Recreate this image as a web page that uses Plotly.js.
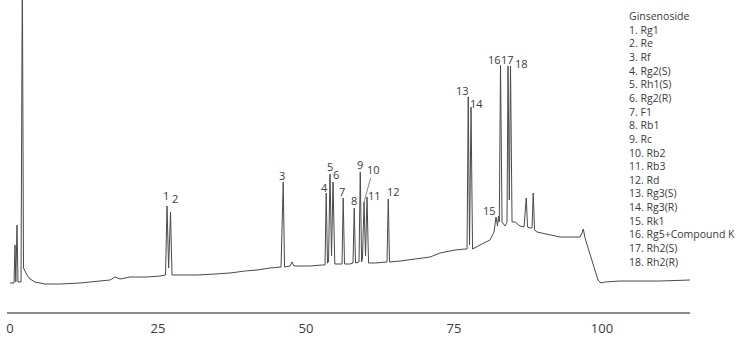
<!DOCTYPE html>
<html>
<head>
<meta charset="utf-8">
<script src="https://cdn.plot.ly/plotly-3.0.1.min.js"></script>
<style>
  html, body { margin: 0; padding: 0; background: #ffffff; }
  #chart { width: 740px; height: 338px; }
</style>
</head>
<body>
<div id="chart"></div>
<script>
// Chromatogram trace: retention time (min) and detector signal (arbitrary units)
const time = [0, 0.68, 0.84, 0.98, 1.18, 1.35, 1.86, 2.08, 2.28, 2.53, 2.87, 3.38, 4.22, 5.91, 8.45, 11.82, 15.20, 16.89, 17.74, 18.58, 20.27, 23.14, 25.34, 26.27, 26.52, 26.79, 27.11, 27.36, 28.72, 31.59, 34.63, 37.16, 39.70, 41.72, 43.92, 45.78, 46.15, 46.37, 47.30, 47.64, 47.97, 50.68, 52.70, 53.21, 53.41, 53.63, 53.80, 54.05, 54.31, 54.56, 54.86, 55.41, 56.08, 56.28, 56.50, 57.43, 57.94, 58.14, 58.36, 58.95, 59.16, 59.39, 59.54, 59.80, 60.05, 60.30, 60.56, 61.66, 63.34, 63.68, 63.89, 64.10, 65.88, 69.26, 70.95, 72.64, 75.17, 76.86, 77.20, 77.40, 77.62, 77.87, 78.13, 79.39, 81.08, 81.76, 82.09, 82.35, 82.52, 82.65, 82.85, 83.11, 83.61, 83.95, 84.12, 84.34, 84.54, 84.80, 85.30, 86.15, 86.82, 87.20, 87.42, 87.84, 88.18, 88.38, 88.60, 89.02, 90.37, 92.91, 95.44, 96.28, 96.62, 96.84, 97.13, 97.97, 98.82, 99.32, 99.83, 100.51, 103.04, 109.80, 114.86];
const signal = [29, 29, 67, 30, 87, 30, 30, 342, 44, 41, 37, 33, 30, 28, 28, 29, 31, 32, 35, 33, 35, 35, 36, 37, 106, 44, 100, 37, 37, 37, 38, 39, 41, 42, 44, 45, 130, 45, 46, 50, 46, 46, 47, 47, 119, 49, 50, 138, 56, 130, 48, 48, 48, 114, 48, 48, 49, 104, 49, 50, 140, 50, 54, 110, 56, 115, 49, 49, 50, 50, 113, 50, 51, 54, 55, 59, 62, 63, 63, 215, 67, 205, 63, 67, 72, 80, 95, 86, 96, 90, 247, 90, 86, 90, 246, 112, 246, 90, 90, 86, 85, 114, 85, 84, 84, 119, 82, 80, 78, 75, 75, 75, 79, 83, 74, 57, 40, 32, 29, 30, 31, 31, 32];

// Numbered peaks: apex time and apex signal
const peakNumbers = ["1","2","3","4","5","6","7","8","9","10","11","12","13","14","15","16","17","18"];
const peakTimes   = [26.52, 27.11, 46.15, 53.41, 54.05, 54.56, 56.28, 58.14, 59.16, 59.80, 60.30, 63.89, 77.40, 77.87, 82.09, 82.85, 84.12, 84.54];
const peakHeights = [106, 100, 130, 119, 138, 130, 114, 104, 140, 110, 115, 113, 215, 205, 95, 247, 246, 246];

// Compound list
const legendTitle = "Ginsenoside";
const compounds = ["Rg1","Re","Rf","Rg2(S)","Rh1(S)","Rg2(R)","F1","Rb1","Rc","Rb2","Rb3","Rd","Rg3(S)","Rg3(R)","Rk1","Rg5+Compound K","Rh2(S)","Rh2(R)"];

// Axis ticks
const tickValues = [0, 25, 50, 75, 100];
const tickLabels = ["0", "25", "50", "75", "100"];

// Label placement offsets in pixels (dx, dy; dy positive = downwards)
const labelOffsets = [[-1,-11],[4.5,-14],[-1,-7],[-2,-6],[0,-8],[3,-8],[-1,-7],[0,-8],[0,-8],[9,-33],[7,-2],[5,-8],[-6,-7],[5,-4],[-7,-7],[-6,-6],[-1,-7],[10.5,-3]];

const textColor = "#3a3a3a";
const labelFont = {family: "Open Sans, sans-serif", size: 11, color: textColor};
const annotations = peakNumbers.map((lbl, i) => {
  const off = labelOffsets[i];
  if (lbl === "10") {
    return {
      x: peakTimes[i], y: peakHeights[i], xref: "x", yref: "y",
      text: lbl, showarrow: true, arrowhead: 0, arrowwidth: 0.8, arrowcolor: "#666",
      ax: off[0], ay: off[1], standoff: 0, font: labelFont
    };
  }
  return {
    x: peakTimes[i], y: peakHeights[i], xref: "x", yref: "y",
    text: lbl, showarrow: false,
    xshift: off[0], yshift: -off[1],
    xanchor: "center", yanchor: "middle", font: labelFont
  };
});

const listText = [legendTitle].concat(compounds.map((c, i) => (i + 1) + ". " + c)).join("<br>");
annotations.push({
  xref: "paper", yref: "paper", x: 0.908, y: 0.976,
  xanchor: "left", yanchor: "top", align: "left",
  text: listText, showarrow: false,
  font: {family: "Open Sans, sans-serif", size: 10.5, color: textColor}
});

const trace = {
  x: time, y: signal, type: "scatter", mode: "lines",
  line: {color: "#4a4a4a", width: 1},
  hoverinfo: "skip"
};

const layout = {
  width: 740, height: 338,
  margin: {l: 7, r: 50, t: 0, b: 26},
  paper_bgcolor: "#ffffff", plot_bgcolor: "#ffffff",
  showlegend: false,
  xaxis: {
    range: [-0.51, 114.86], showgrid: false, zeroline: false,
    showline: true, linecolor: "#8c8c8c", linewidth: 1.5,
    tickvals: tickValues, ticktext: tickLabels,
    ticks: "outside", ticklen: 4, tickcolor: "rgba(0,0,0,0)",
    tickfont: {family: "Open Sans, sans-serif", size: 13, color: textColor}
  },
  yaxis: {
    range: [0, 312], visible: false, showgrid: false, zeroline: false
  },
  annotations: annotations
};

Plotly.newPlot("chart", [trace], layout, {displayModeBar: false, staticPlot: true});
</script>
</body>
</html>
